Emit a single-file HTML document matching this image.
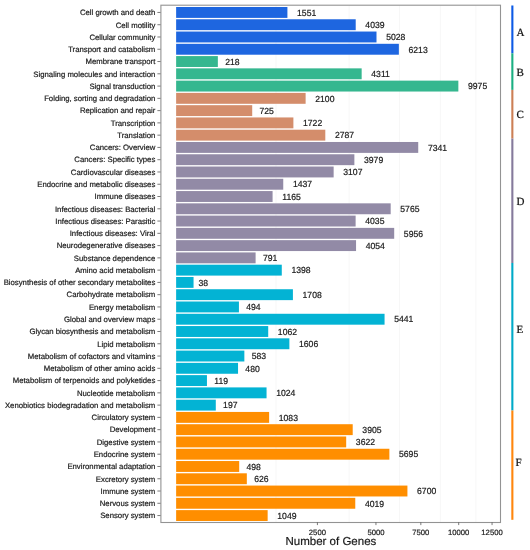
<!DOCTYPE html><html><head><meta charset="utf-8"><style>html,body{margin:0;padding:0;background:#fff;}svg{display:block;will-change:transform;}text{font-family:"Liberation Sans",sans-serif;text-rendering:geometricPrecision;fill:#1a1a1a;stroke:#1a1a1a;stroke-width:0.2px;}</style></head><body>
<svg width="530" height="550" viewBox="0 0 530 550">
<rect x="0" y="0" width="530" height="550" fill="#fff"/>
<line x1="276.03" y1="5.2" x2="276.03" y2="522.5" stroke="#f4f4f4" stroke-width="0.7"/>
<line x1="349.17" y1="5.2" x2="349.17" y2="522.5" stroke="#f4f4f4" stroke-width="0.7"/>
<line x1="399.52" y1="5.2" x2="399.52" y2="522.5" stroke="#f4f4f4" stroke-width="0.7"/>
<line x1="440.45" y1="5.2" x2="440.45" y2="522.5" stroke="#f4f4f4" stroke-width="0.7"/>
<line x1="475.84" y1="5.2" x2="475.84" y2="522.5" stroke="#f4f4f4" stroke-width="0.7"/>
<rect x="176.13" y="7.00" width="111.28" height="10.9" fill="#1e66e0"/>
<text transform="translate(297.05,15.70) scale(1,1.03)" font-size="8.65">1551</text>
<text x="155.3" y="15.24" font-size="7.75" text-anchor="end">Cell growth and death</text>
<line x1="157.4" y1="12.45" x2="160.9" y2="12.45" stroke="#222" stroke-width="0.6"/>
<rect x="176.13" y="19.27" width="179.58" height="10.9" fill="#1e66e0"/>
<text transform="translate(365.35,27.97) scale(1,1.03)" font-size="8.65">4039</text>
<text x="155.3" y="27.51" font-size="7.75" text-anchor="end">Cell motility</text>
<line x1="157.4" y1="24.72" x2="160.9" y2="24.72" stroke="#222" stroke-width="0.6"/>
<rect x="176.13" y="31.54" width="200.37" height="10.9" fill="#1e66e0"/>
<text transform="translate(386.14,40.24) scale(1,1.03)" font-size="8.65">5028</text>
<text x="155.3" y="39.78" font-size="7.75" text-anchor="end">Cellular community</text>
<line x1="157.4" y1="36.99" x2="160.9" y2="36.99" stroke="#222" stroke-width="0.6"/>
<rect x="176.13" y="43.81" width="222.73" height="10.9" fill="#1e66e0"/>
<text transform="translate(408.50,52.51) scale(1,1.03)" font-size="8.65">6213</text>
<text x="155.3" y="52.05" font-size="7.75" text-anchor="end">Transport and catabolism</text>
<line x1="157.4" y1="49.26" x2="160.9" y2="49.26" stroke="#222" stroke-width="0.6"/>
<rect x="176.13" y="56.08" width="41.72" height="10.9" fill="#35b78f"/>
<text transform="translate(225.16,64.78) scale(1,1.03)" font-size="8.65">218</text>
<text x="155.3" y="64.33" font-size="7.75" text-anchor="end">Membrane transport</text>
<line x1="157.4" y1="61.53" x2="160.9" y2="61.53" stroke="#222" stroke-width="0.6"/>
<rect x="176.13" y="68.36" width="185.53" height="10.9" fill="#35b78f"/>
<text transform="translate(371.30,77.06) scale(1,1.03)" font-size="8.65">4311</text>
<text x="155.3" y="76.60" font-size="7.75" text-anchor="end">Signaling molecules and interaction</text>
<line x1="157.4" y1="73.81" x2="160.9" y2="73.81" stroke="#222" stroke-width="0.6"/>
<rect x="176.13" y="80.63" width="282.22" height="10.9" fill="#35b78f"/>
<text transform="translate(467.99,89.33) scale(1,1.03)" font-size="8.65">9975</text>
<text x="155.3" y="88.87" font-size="7.75" text-anchor="end">Signal transduction</text>
<line x1="157.4" y1="86.08" x2="160.9" y2="86.08" stroke="#222" stroke-width="0.6"/>
<rect x="176.13" y="92.90" width="129.49" height="10.9" fill="#d48d6b"/>
<text transform="translate(315.26,101.60) scale(1,1.03)" font-size="8.65">2100</text>
<text x="155.3" y="101.14" font-size="7.75" text-anchor="end">Folding, sorting and degradation</text>
<line x1="157.4" y1="98.35" x2="160.9" y2="98.35" stroke="#222" stroke-width="0.6"/>
<rect x="176.13" y="105.17" width="76.08" height="10.9" fill="#d48d6b"/>
<text transform="translate(259.52,113.87) scale(1,1.03)" font-size="8.65">725</text>
<text x="155.3" y="113.41" font-size="7.75" text-anchor="end">Replication and repair</text>
<line x1="157.4" y1="110.62" x2="160.9" y2="110.62" stroke="#222" stroke-width="0.6"/>
<rect x="176.13" y="117.44" width="117.26" height="10.9" fill="#d48d6b"/>
<text transform="translate(303.03,126.14) scale(1,1.03)" font-size="8.65">1722</text>
<text x="155.3" y="125.68" font-size="7.75" text-anchor="end">Transcription</text>
<line x1="157.4" y1="122.89" x2="160.9" y2="122.89" stroke="#222" stroke-width="0.6"/>
<rect x="176.13" y="129.71" width="149.17" height="10.9" fill="#d48d6b"/>
<text transform="translate(334.95,138.41) scale(1,1.03)" font-size="8.65">2787</text>
<text x="155.3" y="137.95" font-size="7.75" text-anchor="end">Translation</text>
<line x1="157.4" y1="135.16" x2="160.9" y2="135.16" stroke="#222" stroke-width="0.6"/>
<rect x="176.13" y="141.98" width="242.10" height="10.9" fill="#928aa6"/>
<text transform="translate(427.88,150.68) scale(1,1.03)" font-size="8.65">7341</text>
<text x="155.3" y="150.22" font-size="7.75" text-anchor="end">Cancers: Overview</text>
<line x1="157.4" y1="147.43" x2="160.9" y2="147.43" stroke="#222" stroke-width="0.6"/>
<rect x="176.13" y="154.25" width="178.24" height="10.9" fill="#928aa6"/>
<text transform="translate(364.01,162.95) scale(1,1.03)" font-size="8.65">3979</text>
<text x="155.3" y="162.49" font-size="7.75" text-anchor="end">Cancers: Specific types</text>
<line x1="157.4" y1="159.70" x2="160.9" y2="159.70" stroke="#222" stroke-width="0.6"/>
<rect x="176.13" y="166.52" width="157.51" height="10.9" fill="#928aa6"/>
<text transform="translate(343.28,175.22) scale(1,1.03)" font-size="8.65">3107</text>
<text x="155.3" y="174.76" font-size="7.75" text-anchor="end">Cardiovascular diseases</text>
<line x1="157.4" y1="171.97" x2="160.9" y2="171.97" stroke="#222" stroke-width="0.6"/>
<rect x="176.13" y="178.79" width="107.12" height="10.9" fill="#928aa6"/>
<text transform="translate(292.89,187.49) scale(1,1.03)" font-size="8.65">1437</text>
<text x="155.3" y="187.04" font-size="7.75" text-anchor="end">Endocrine and metabolic diseases</text>
<line x1="157.4" y1="184.24" x2="160.9" y2="184.24" stroke="#222" stroke-width="0.6"/>
<rect x="176.13" y="191.06" width="96.45" height="10.9" fill="#928aa6"/>
<text transform="translate(282.22,199.76) scale(1,1.03)" font-size="8.65">1165</text>
<text x="155.3" y="199.31" font-size="7.75" text-anchor="end">Immune diseases</text>
<line x1="157.4" y1="196.51" x2="160.9" y2="196.51" stroke="#222" stroke-width="0.6"/>
<rect x="176.13" y="203.34" width="214.55" height="10.9" fill="#928aa6"/>
<text transform="translate(400.32,212.04) scale(1,1.03)" font-size="8.65">5765</text>
<text x="155.3" y="211.58" font-size="7.75" text-anchor="end">Infectious diseases: Bacterial</text>
<line x1="157.4" y1="208.79" x2="160.9" y2="208.79" stroke="#222" stroke-width="0.6"/>
<rect x="176.13" y="215.61" width="179.49" height="10.9" fill="#928aa6"/>
<text transform="translate(365.26,224.31) scale(1,1.03)" font-size="8.65">4035</text>
<text x="155.3" y="223.85" font-size="7.75" text-anchor="end">Infectious diseases: Parasitic</text>
<line x1="157.4" y1="221.06" x2="160.9" y2="221.06" stroke="#222" stroke-width="0.6"/>
<rect x="176.13" y="227.88" width="218.07" height="10.9" fill="#928aa6"/>
<text transform="translate(403.84,236.58) scale(1,1.03)" font-size="8.65">5956</text>
<text x="155.3" y="236.12" font-size="7.75" text-anchor="end">Infectious diseases: Viral</text>
<line x1="157.4" y1="233.33" x2="160.9" y2="233.33" stroke="#222" stroke-width="0.6"/>
<rect x="176.13" y="240.15" width="179.92" height="10.9" fill="#928aa6"/>
<text transform="translate(365.69,248.85) scale(1,1.03)" font-size="8.65">4054</text>
<text x="155.3" y="248.39" font-size="7.75" text-anchor="end">Neurodegenerative diseases</text>
<line x1="157.4" y1="245.60" x2="160.9" y2="245.60" stroke="#222" stroke-width="0.6"/>
<rect x="176.13" y="252.42" width="79.47" height="10.9" fill="#928aa6"/>
<text transform="translate(262.91,261.12) scale(1,1.03)" font-size="8.65">791</text>
<text x="155.3" y="260.66" font-size="7.75" text-anchor="end">Substance dependence</text>
<line x1="157.4" y1="257.87" x2="160.9" y2="257.87" stroke="#222" stroke-width="0.6"/>
<rect x="176.13" y="264.69" width="105.65" height="10.9" fill="#03b3d4"/>
<text transform="translate(291.42,273.39) scale(1,1.03)" font-size="8.65">1398</text>
<text x="155.3" y="272.93" font-size="7.75" text-anchor="end">Amino acid metabolism</text>
<line x1="157.4" y1="270.14" x2="160.9" y2="270.14" stroke="#222" stroke-width="0.6"/>
<rect x="176.13" y="276.96" width="17.42" height="10.9" fill="#03b3d4"/>
<text transform="translate(198.52,285.66) scale(1,1.03)" font-size="8.65">38</text>
<text x="155.3" y="285.20" font-size="7.75" text-anchor="end">Biosynthesis of other secondary metabolites</text>
<line x1="157.4" y1="282.41" x2="160.9" y2="282.41" stroke="#222" stroke-width="0.6"/>
<rect x="176.13" y="289.23" width="116.78" height="10.9" fill="#03b3d4"/>
<text transform="translate(302.55,297.93) scale(1,1.03)" font-size="8.65">1708</text>
<text x="155.3" y="297.47" font-size="7.75" text-anchor="end">Carbohydrate metabolism</text>
<line x1="157.4" y1="294.68" x2="160.9" y2="294.68" stroke="#222" stroke-width="0.6"/>
<rect x="176.13" y="301.50" width="62.80" height="10.9" fill="#03b3d4"/>
<text transform="translate(246.24,310.20) scale(1,1.03)" font-size="8.65">494</text>
<text x="155.3" y="309.75" font-size="7.75" text-anchor="end">Energy metabolism</text>
<line x1="157.4" y1="306.95" x2="160.9" y2="306.95" stroke="#222" stroke-width="0.6"/>
<rect x="176.13" y="313.78" width="208.43" height="10.9" fill="#03b3d4"/>
<text transform="translate(394.20,322.48) scale(1,1.03)" font-size="8.65">5441</text>
<text x="155.3" y="322.02" font-size="7.75" text-anchor="end">Global and overview maps</text>
<line x1="157.4" y1="319.23" x2="160.9" y2="319.23" stroke="#222" stroke-width="0.6"/>
<rect x="176.13" y="326.05" width="92.08" height="10.9" fill="#03b3d4"/>
<text transform="translate(277.86,334.75) scale(1,1.03)" font-size="8.65">1062</text>
<text x="155.3" y="334.29" font-size="7.75" text-anchor="end">Glycan biosynthesis and metabolism</text>
<line x1="157.4" y1="331.50" x2="160.9" y2="331.50" stroke="#222" stroke-width="0.6"/>
<rect x="176.13" y="338.32" width="113.24" height="10.9" fill="#03b3d4"/>
<text transform="translate(299.01,347.02) scale(1,1.03)" font-size="8.65">1606</text>
<text x="155.3" y="346.56" font-size="7.75" text-anchor="end">Lipid metabolism</text>
<line x1="157.4" y1="343.77" x2="160.9" y2="343.77" stroke="#222" stroke-width="0.6"/>
<rect x="176.13" y="350.59" width="68.23" height="10.9" fill="#03b3d4"/>
<text transform="translate(251.66,359.29) scale(1,1.03)" font-size="8.65">583</text>
<text x="155.3" y="358.83" font-size="7.75" text-anchor="end">Metabolism of cofactors and vitamins</text>
<line x1="157.4" y1="356.04" x2="160.9" y2="356.04" stroke="#222" stroke-width="0.6"/>
<rect x="176.13" y="362.86" width="61.91" height="10.9" fill="#03b3d4"/>
<text transform="translate(245.34,371.56) scale(1,1.03)" font-size="8.65">480</text>
<text x="155.3" y="371.10" font-size="7.75" text-anchor="end">Metabolism of other amino acids</text>
<line x1="157.4" y1="368.31" x2="160.9" y2="368.31" stroke="#222" stroke-width="0.6"/>
<rect x="176.13" y="375.13" width="30.82" height="10.9" fill="#03b3d4"/>
<text transform="translate(214.26,383.83) scale(1,1.03)" font-size="8.65">119</text>
<text x="155.3" y="383.37" font-size="7.75" text-anchor="end">Metabolism of terpenoids and polyketides</text>
<line x1="157.4" y1="380.58" x2="160.9" y2="380.58" stroke="#222" stroke-width="0.6"/>
<rect x="176.13" y="387.40" width="90.42" height="10.9" fill="#03b3d4"/>
<text transform="translate(276.19,396.10) scale(1,1.03)" font-size="8.65">1024</text>
<text x="155.3" y="395.64" font-size="7.75" text-anchor="end">Nucleotide metabolism</text>
<line x1="157.4" y1="392.85" x2="160.9" y2="392.85" stroke="#222" stroke-width="0.6"/>
<rect x="176.13" y="399.67" width="39.66" height="10.9" fill="#03b3d4"/>
<text transform="translate(223.10,408.37) scale(1,1.03)" font-size="8.65">197</text>
<text x="155.3" y="407.91" font-size="7.75" text-anchor="end">Xenobiotics biodegradation and metabolism</text>
<line x1="157.4" y1="405.12" x2="160.9" y2="405.12" stroke="#222" stroke-width="0.6"/>
<rect x="176.13" y="411.94" width="92.99" height="10.9" fill="#ff8e00"/>
<text transform="translate(278.76,420.64) scale(1,1.03)" font-size="8.65">1083</text>
<text x="155.3" y="420.18" font-size="7.75" text-anchor="end">Circulatory system</text>
<line x1="157.4" y1="417.39" x2="160.9" y2="417.39" stroke="#222" stroke-width="0.6"/>
<rect x="176.13" y="424.21" width="176.58" height="10.9" fill="#ff8e00"/>
<text transform="translate(362.35,432.91) scale(1,1.03)" font-size="8.65">3905</text>
<text x="155.3" y="432.46" font-size="7.75" text-anchor="end">Development</text>
<line x1="157.4" y1="429.66" x2="160.9" y2="429.66" stroke="#222" stroke-width="0.6"/>
<rect x="176.13" y="436.49" width="170.06" height="10.9" fill="#ff8e00"/>
<text transform="translate(355.83,445.19) scale(1,1.03)" font-size="8.65">3622</text>
<text x="155.3" y="444.73" font-size="7.75" text-anchor="end">Digestive system</text>
<line x1="157.4" y1="441.94" x2="160.9" y2="441.94" stroke="#222" stroke-width="0.6"/>
<rect x="176.13" y="448.76" width="213.24" height="10.9" fill="#ff8e00"/>
<text transform="translate(399.01,457.46) scale(1,1.03)" font-size="8.65">5695</text>
<text x="155.3" y="457.00" font-size="7.75" text-anchor="end">Endocrine system</text>
<line x1="157.4" y1="454.21" x2="160.9" y2="454.21" stroke="#222" stroke-width="0.6"/>
<rect x="176.13" y="461.03" width="63.06" height="10.9" fill="#ff8e00"/>
<text transform="translate(246.49,469.73) scale(1,1.03)" font-size="8.65">498</text>
<text x="155.3" y="469.27" font-size="7.75" text-anchor="end">Environmental adaptation</text>
<line x1="157.4" y1="466.48" x2="160.9" y2="466.48" stroke="#222" stroke-width="0.6"/>
<rect x="176.13" y="473.30" width="70.70" height="10.9" fill="#ff8e00"/>
<text transform="translate(254.13,482.00) scale(1,1.03)" font-size="8.65">626</text>
<text x="155.3" y="481.54" font-size="7.75" text-anchor="end">Excretory system</text>
<line x1="157.4" y1="478.75" x2="160.9" y2="478.75" stroke="#222" stroke-width="0.6"/>
<rect x="176.13" y="485.57" width="231.29" height="10.9" fill="#ff8e00"/>
<text transform="translate(417.06,494.27) scale(1,1.03)" font-size="8.65">6700</text>
<text x="155.3" y="493.81" font-size="7.75" text-anchor="end">Immune system</text>
<line x1="157.4" y1="491.02" x2="160.9" y2="491.02" stroke="#222" stroke-width="0.6"/>
<rect x="176.13" y="497.84" width="179.14" height="10.9" fill="#ff8e00"/>
<text transform="translate(364.91,506.54) scale(1,1.03)" font-size="8.65">4019</text>
<text x="155.3" y="506.08" font-size="7.75" text-anchor="end">Nervous system</text>
<line x1="157.4" y1="503.29" x2="160.9" y2="503.29" stroke="#222" stroke-width="0.6"/>
<rect x="176.13" y="510.11" width="91.52" height="10.9" fill="#ff8e00"/>
<text transform="translate(277.29,518.81) scale(1,1.03)" font-size="8.65">1049</text>
<text x="155.3" y="518.35" font-size="7.75" text-anchor="end">Sensory system</text>
<line x1="157.4" y1="515.56" x2="160.9" y2="515.56" stroke="#222" stroke-width="0.6"/>
<rect x="160.9" y="5.2" width="339.6" height="517.3" fill="none" stroke="#939393" stroke-width="1.1"/>
<line x1="317.41" y1="522.5" x2="317.41" y2="525.1" stroke="#222" stroke-width="0.6"/>
<text x="317.41" y="534.7" font-size="7.7" fill="#222" text-anchor="middle">2500</text>
<line x1="375.94" y1="522.5" x2="375.94" y2="525.1" stroke="#222" stroke-width="0.6"/>
<text x="375.94" y="534.7" font-size="7.7" fill="#222" text-anchor="middle">5000</text>
<line x1="420.84" y1="522.5" x2="420.84" y2="525.1" stroke="#222" stroke-width="0.6"/>
<text x="420.84" y="534.7" font-size="7.7" fill="#222" text-anchor="middle">7500</text>
<line x1="458.70" y1="522.5" x2="458.70" y2="525.1" stroke="#222" stroke-width="0.6"/>
<text x="458.70" y="534.7" font-size="7.7" fill="#222" text-anchor="middle">10000</text>
<line x1="492.05" y1="522.5" x2="492.05" y2="525.1" stroke="#222" stroke-width="0.6"/>
<text x="492.05" y="534.7" font-size="7.7" fill="#222" text-anchor="middle">12500</text>
<text x="330.9" y="545.2" font-size="11.5" fill="#000" text-anchor="middle">Number of Genes</text>
<defs><filter id="bl" x="-5" y="-0.1" width="11" height="1.2"><feGaussianBlur stdDeviation="0.45"/></filter></defs>
<g filter="url(#bl)">
<rect x="511.3" y="5.5" width="2.1" height="47.80" fill="#0a5ae6"/>
<rect x="511.3" y="53.3" width="2.1" height="36.60" fill="#1aaf82"/>
<rect x="511.3" y="89.9" width="2.1" height="48.70" fill="#cc7f55"/>
<rect x="511.3" y="138.6" width="2.1" height="124.40" fill="#857a9c"/>
<rect x="511.3" y="263.0" width="2.1" height="147.50" fill="#00aac8"/>
<rect x="511.3" y="410.5" width="2.1" height="109.30" fill="#ff860a"/>
</g>
<text x="516.4" y="35.60" font-size="11" style="font-family:'Liberation Serif',serif;fill:#111;stroke:#111;stroke-width:0.22px">A</text>
<text x="516.4" y="76.00" font-size="11" style="font-family:'Liberation Serif',serif;fill:#111;stroke:#111;stroke-width:0.22px">B</text>
<text x="516.4" y="118.00" font-size="11" style="font-family:'Liberation Serif',serif;fill:#111;stroke:#111;stroke-width:0.22px">C</text>
<text x="516.4" y="204.70" font-size="11" style="font-family:'Liberation Serif',serif;fill:#111;stroke:#111;stroke-width:0.22px">D</text>
<text x="516.4" y="332.80" font-size="11" style="font-family:'Liberation Serif',serif;fill:#111;stroke:#111;stroke-width:0.22px">E</text>
<text x="515.5" y="465.60" font-size="11" style="font-family:'Liberation Serif',serif;fill:#111;stroke:#111;stroke-width:0.22px">F</text>
</svg></body></html>
